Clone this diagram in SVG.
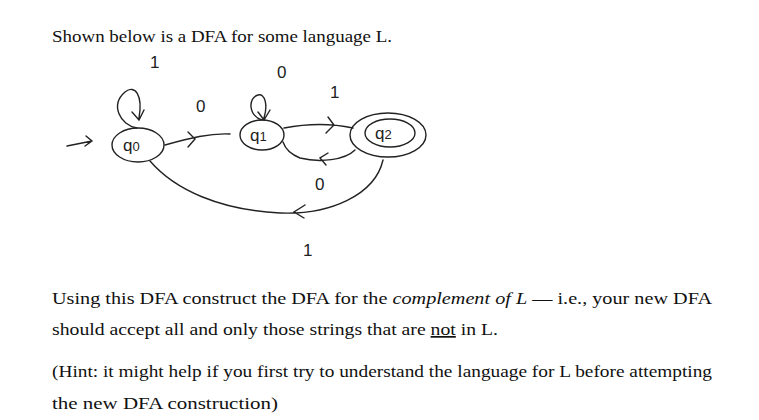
<svg xmlns="http://www.w3.org/2000/svg" width="759" height="420" viewBox="0 0 759 420">
<style>
.t{font-family:"Liberation Serif",serif;font-size:17px;fill:#111}
.h{font-family:"Liberation Sans",sans-serif;font-size:17px;fill:#222}
.s{fill:none;stroke:#222;stroke-width:1.4;stroke-linecap:round}
</style>
<rect width="759" height="420" fill="#fff"/>
<text class="t" x="52" y="42" textLength="340" lengthAdjust="spacingAndGlyphs">Shown below is a DFA for some language L.</text>
<g id="q0"><ellipse class="s" cx="138" cy="145" rx="26" ry="17"/><text class="h" x="123" y="151">q<tspan font-size="13">0</tspan></text></g>
<g id="q1"><ellipse class="s" cx="262" cy="135" rx="22" ry="15"/><text class="h" x="250" y="141">q<tspan font-size="13">1</tspan></text></g>
<g id="q2"><ellipse class="s" cx="388" cy="135" rx="38" ry="22"/><ellipse class="s" cx="390" cy="133" rx="25" ry="14"/><text class="h" x="375" y="139">q<tspan font-size="13">2</tspan></text></g>
<g id="edges">
<path class="s" d="M67 146 L92 141 M86 136 L92 141 L85 146"/>
<path class="s" d="M137 128 C 120 125 110 105 125 92 C 135 84 143 95 139 118 M132 112 L139 120 L144 110"/>
<text class="h" x="150" y="68">1</text>
<path class="s" d="M165 145 C 190 138 210 133 230 134 M188 132 L195 139 L188 147"/>
<text class="h" x="196" y="112">0</text>
<path class="s" d="M262 120 C 248 115 248 98 258 95 C 265 93 268 105 264 118 M258 112 L264 120 L270 110"/>
<text class="h" x="277" y="78">0</text>
<path class="s" d="M284 128 C 305 124 330 123 353 128 M328 117 L334 125 L326 133"/>
<text class="h" x="330" y="98">1</text>
<path class="s" d="M355 150 C 345 160 320 163 300 158 C 290 154 285 148 283 142 M328 153 L320 158 L326 165"/>
<text class="h" x="315" y="190">0</text>
<path class="s" d="M383 160 C 375 195 330 215 280 213 C 220 210 175 190 150 161 M305 205 L294 212 L304 218"/>
<text class="h" x="303" y="256">1</text>
</g>
<text class="t" x="52" y="304" textLength="660" lengthAdjust="spacingAndGlyphs">Using this DFA construct the DFA for the <tspan font-style="italic">complement of L</tspan> — i.e., your new DFA</text>
<text class="t" x="52" y="335" textLength="446" lengthAdjust="spacingAndGlyphs">should accept all and only those strings that are <tspan text-decoration="underline">not</tspan> in L.</text>
<text class="t" x="52" y="377" textLength="660" lengthAdjust="spacingAndGlyphs">(Hint: it might help if you first try to understand the language for L before attempting</text>
<text class="t" x="52" y="409" textLength="226" lengthAdjust="spacingAndGlyphs">the new DFA construction)</text>
</svg>
